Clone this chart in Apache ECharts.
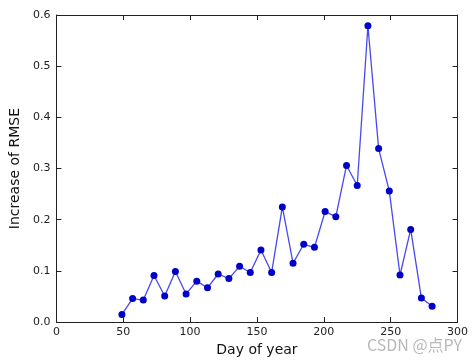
<!DOCTYPE html>
<html><head><meta charset="utf-8">
<script src="https://cdn.jsdelivr.net/npm/echarts@6/dist/echarts.min.js"></script>
<style>html,body{margin:0;padding:0;background:#fff}#c{width:474px;height:362px}</style>
</head><body><div id="c"></div>
<script>
const days = [49,57,65,73,81,89,97,105,113,121,129,137,145,153,161,169,177,185,193,201,209,217,225,233,241,249,257,265,273,281];
const rmseIncrease = [0.015,0.046,0.043,0.091,0.051,0.099,0.055,0.080,0.067,0.094,0.085,0.109,0.097,0.141,0.097,0.225,0.115,0.152,0.146,0.216,0.206,0.306,0.267,0.579,0.339,0.256,0.092,0.181,0.047,0.031];
const xTitle = "Day of year";
const yTitle = "Increase of RMSE";
const watermark = "CSDN @点PY";

const font = "DejaVu Sans";
const axisLine = {show:true, onZero:false, lineStyle:{color:'#222', width:1}};
const tick = {show:true, inside:true, length:5, lineStyle:{color:'#222'}};
const chart = echarts.init(document.getElementById('c'));
chart.setOption({
  animation:false,
  grid:{left:55.5, right:16.5, top:15, bottom:37},
  xAxis:[{
    type:'value', min:0, max:300, interval:50, position:'bottom',
    name:xTitle, nameLocation:'middle', nameGap:17,
    nameTextStyle:{fontFamily:font, fontSize:14, color:'#111'},
    axisLine:axisLine, axisTick:tick, splitLine:{show:false},
    axisLabel:{fontFamily:font, fontSize:11, color:'#222', margin:5}
  },{
    type:'value', min:0, max:300, interval:50, position:'top',
    axisLine:axisLine, axisTick:tick, splitLine:{show:false}, axisLabel:{show:false}
  }],
  yAxis:[{
    type:'value', min:0, max:0.6, interval:0.1, position:'left',
    name:yTitle, nameLocation:'middle', nameGap:33,
    nameTextStyle:{fontFamily:font, fontSize:14, color:'#111'},
    axisLine:axisLine, axisTick:tick, splitLine:{show:false},
    axisLabel:{fontFamily:font, fontSize:11, color:'#222', margin:6, formatter:v=>v.toFixed(1)}
  },{
    type:'value', min:0, max:0.6, interval:0.1, position:'right',
    axisLine:axisLine, axisTick:tick, splitLine:{show:false}, axisLabel:{show:false}
  }],
  series:[{
    type:'line',
    data:days.map((d,i)=>[d,rmseIncrease[i]]),
    symbol:'circle', symbolSize:7,
    lineStyle:{color:'#4848f0', width:1.3},
    itemStyle:{color:'#0000c8'}
  }],
  graphic:[{
    type:'text', right:12, top:337,
    style:{text:watermark, fontFamily:"Noto Sans CJK SC", fontSize:16, fill:'#b8b8b8'}
  }]
});
</script></body></html>
